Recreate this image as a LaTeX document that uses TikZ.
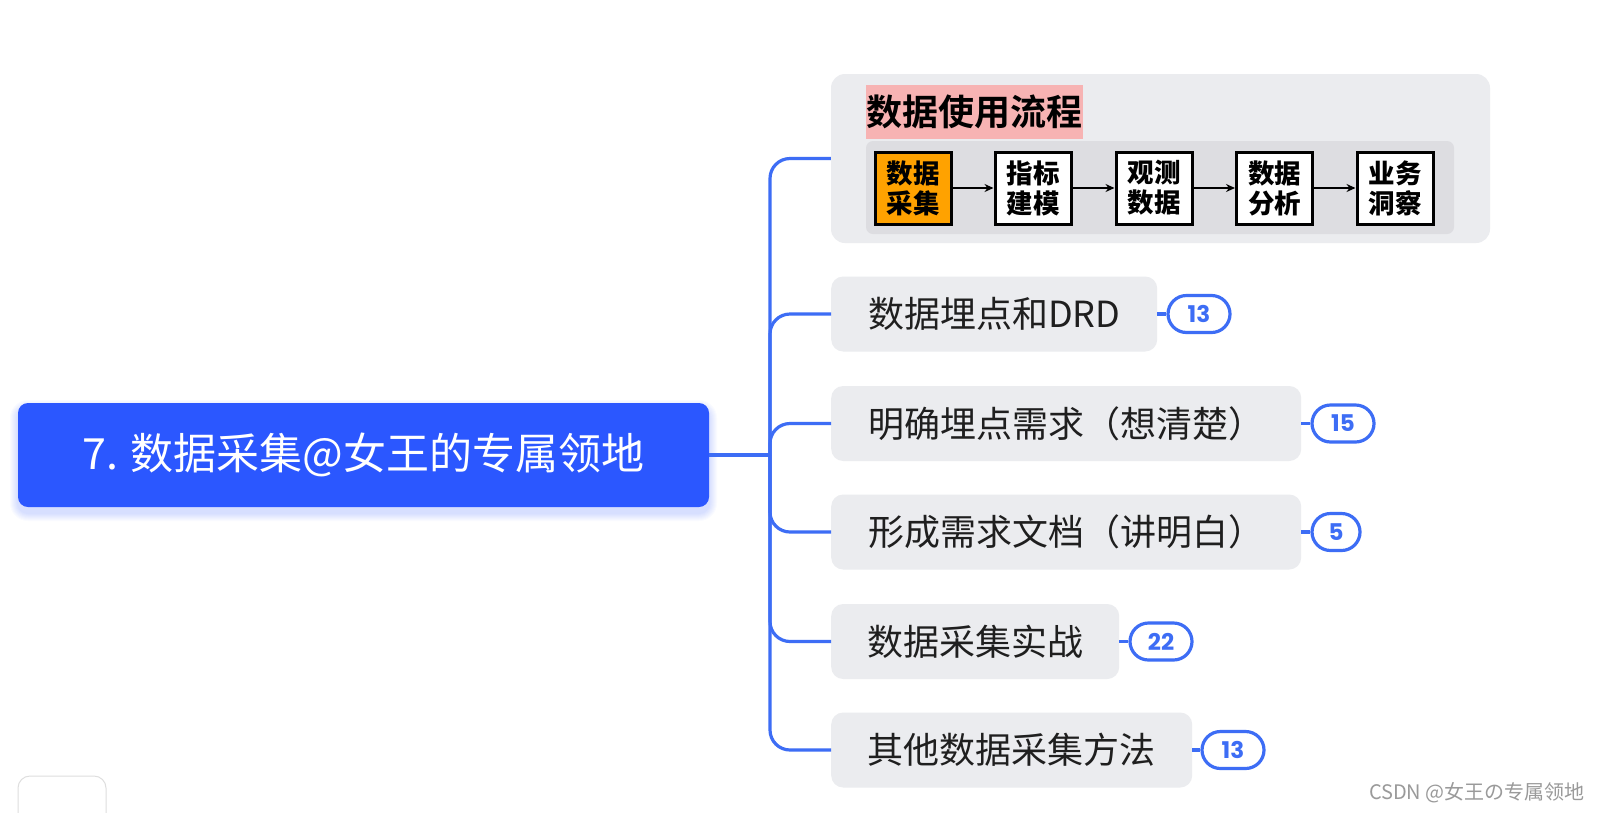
\documentclass[tikz,border=0pt]{standalone}
\usepackage{fontspec}
\setmainfont{Noto Sans CJK SC}[BoldFont={Noto Sans CJK SC Bold}]
\newfontfamily\numfont{Poppins}
\newfontfamily\heavycjk{Noto Sans CJK SC Black}
\usetikzlibrary{arrows.meta}
\definecolor{rootblue}{HTML}{2B57FF}
\definecolor{lineblue}{HTML}{3D6DF5}
\definecolor{childgray}{HTML}{EBECEF}
\definecolor{innergray}{HTML}{DDDDE1}
\definecolor{pinkhl}{HTML}{F7B3B3}
\definecolor{flowor}{HTML}{FFA200}
\definecolor{txtdark}{HTML}{1F1F1F}
\definecolor{wmgray}{HTML}{9A9A9A}
\begin{document}
\begin{tikzpicture}[x=1pt,y=-1pt,
 rootbox/.style={fill=rootblue, rounded corners=10pt, text=white, font=\fontsize{43}{50}\selectfont, minimum width=691pt, minimum height=104pt, inner sep=0pt},
 childbox/.style={fill=childgray, rounded corners=12pt, font=\fontsize{36}{42}\selectfont, text=txtdark, minimum height=75pt, inner xsep=0pt, anchor=west},
 panel/.style={fill=childgray, rounded corners=14pt, minimum width=659pt, minimum height=169pt, inner sep=0pt},
 strip/.style={fill=innergray, rounded corners=7pt, minimum width=588pt, minimum height=93pt, inner sep=0pt},
 titlehl/.style={fill=pinkhl, minimum width=217pt, minimum height=54pt, inner sep=0pt, font=\bfseries\fontsize{36}{40}\selectfont, text=black, anchor=north west},
 badge/.style={draw=lineblue, line width=3.2pt, fill=white, rounded corners=18.5pt, minimum height=37pt, text=lineblue, font=\numfont\bfseries\fontsize{23}{26}\selectfont, inner sep=0pt, anchor=west},
 branch/.style={draw=lineblue, line width=3.2pt, rounded corners=20pt},
 flowbox/.style={draw=black, line width=3pt, fill=white, minimum width=76pt, minimum height=72pt, align=center, font=\heavycjk\fontsize{26.5}{30}\selectfont, inner sep=0pt},
 flowarrow/.style={draw=black, line width=2.4pt, -{Stealth[length=9pt,width=8pt]}}
]
\useasboundingbox (0,0) rectangle (1600,812);
\fill[white] (0,0) rectangle (1600,812);

% root glow
\foreach \i in {1,...,8}
  \fill[rootblue, opacity=0.025, rounded corners={10pt+\i pt}] (18-\i,403-\i+5) rectangle (709+\i,507+\i+6);

\node[rootbox] (root) at (363.5,455) {7. 数据采集@女王的专属领地};
\coordinate (trunk) at (770,455);

% flow panel
\node[panel] (flowpanel) at (1160.5,158.5) {};
\node[strip] (flowstrip) at (1160,187.5) {};
\node[titlehl] (title) at (866,85) {数据使用流程};
\node[flowbox, fill=flowor] (f1) at (913,188) {数据\\采集};
\node[flowbox] (f2) at (1033,188) {指标\\建模};
\node[flowbox] (f3) at (1154,188) {观测\\数据};
\node[flowbox] (f4) at (1274.5,188) {数据\\分析};
\node[flowbox] (f5) at (1395,188) {业务\\洞察};
\draw[flowarrow] (f1.east) -- (f2.west);
\draw[flowarrow] (f2.east) -- (f3.west);
\draw[flowarrow] (f3.east) -- (f4.west);
\draw[flowarrow] (f4.east) -- (f5.west);

% children
\node[childbox, minimum width=326pt] (c2) at (831,314) {数据埋点和DRD};
\node[childbox, minimum width=470pt] (c3) at (831,423.5) {明确埋点需求（想清楚）};
\node[childbox, minimum width=470pt] (c4) at (831,532) {形成需求文档（讲明白）};
\node[childbox, minimum width=288pt] (c5) at (831,641.5) {数据采集实战};
\node[childbox, minimum width=361pt] (c6) at (831,750) {其他数据采集方法};

% branches
\draw[branch, rounded corners=0pt] (root.east) -- (trunk);
\foreach \c in {flowpanel,c2,c3,c4,c5,c6}
  \draw[branch] (trunk) |- (\c.west);

% badges
\node[badge, minimum width=62pt] (b2) at ([xshift=9pt]c2.east) {13};
\node[badge, minimum width=62pt] (b3) at ([xshift=9pt]c3.east) {15};
\node[badge, minimum width=48pt] (b4) at ([xshift=9pt]c4.east) {5};
\node[badge, minimum width=62pt] (b5) at ([xshift=9pt]c5.east) {22};
\node[badge, minimum width=62pt] (b6) at ([xshift=8pt]c6.east) {13};
\foreach \a/\b in {c2/b2,c3/b3,c4/b4,c5/b5,c6/b6}
  \draw[draw=lineblue, line width=3.2pt] (\a.east) -- (\b.west);

% bottom-left partial widget
\begin{scope}
  \clip (0,0) rectangle (1600,812);
  \draw[draw=black!13, fill=white, line width=1pt, rounded corners=12pt] (18,776) rectangle (106,860);
\end{scope}

% watermark
\node[anchor=east, text=wmgray, font=\fontsize{20}{22}\selectfont, inner sep=0pt] (wm) at (1585,793) {CSDN @女王の专属领地};
\end{tikzpicture}
\end{document}
